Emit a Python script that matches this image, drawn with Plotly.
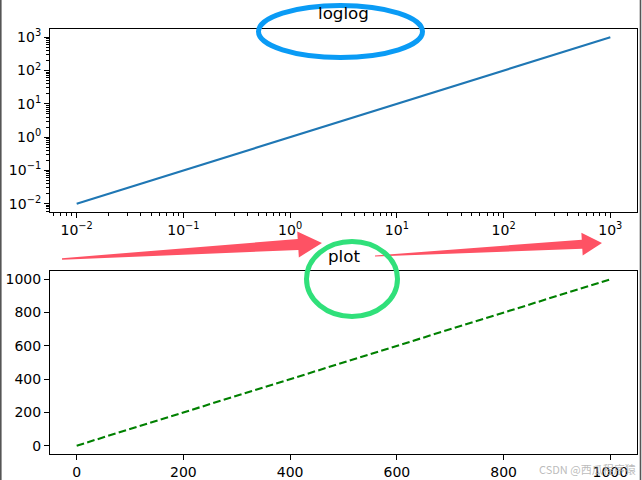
import math
import plotly.graph_objects as go
from plotly.subplots import make_subplots

# ---- data ----
loglog_x = [0.01, 0.1, 1, 10, 100, 1000]
loglog_y = [0.01, 0.1, 1, 10, 100, 1000]
plot_x = [0, 250, 500, 750, 1000]
plot_y = [0, 250, 500, 750, 1000]

log_tick_vals = [0.01, 0.1, 1, 10, 100, 1000]
log_tick_text = ["10<sup>\u22122</sup>", "10<sup>\u22121</sup>", "10<sup>0</sup>",
                 "10<sup>1</sup>", "10<sup>2</sup>", "10<sup>3</sup>"]
lin_tick_vals = [0, 200, 400, 600, 800, 1000]
lin_tick_text = ["0", "200", "400", "600", "800", "1000"]

title_top = "loglog"
title_bottom = "plot"
watermark = "CSDN @西瓜程序猿"

# ---- layout geometry (pixels) ----
W, H = 642, 480
L, R, T, B = 50, 5, 29, 26
PW, PH = W - L - R, H - T - B
top_ax = (29, 212)
bot_ax = (271, 454)


def px(x):
    return (x - L) / PW


def py(y):
    return (H - B - y) / PH


fig = make_subplots(rows=2, cols=1)

fig.add_trace(go.Scatter(x=loglog_x, y=loglog_y, mode="lines",
                         line=dict(color="#1f77b4", width=2.1),
                         showlegend=False), row=1, col=1)
fig.add_trace(go.Scatter(x=plot_x, y=plot_y, mode="lines",
                         line=dict(color="#008000", width=2.1, dash="7.7px,3.3px"),
                         showlegend=False), row=2, col=1)

minor_vals = [m * 10 ** e for e in range(-3, 4) for m in range(2, 10)]
minor_vals = [v for v in minor_vals if 10 ** -2.3 < v < 10 ** 3.3]

tickfont = dict(family="DejaVu Sans", size=14, color="black")
common = dict(showline=True, linecolor="black", linewidth=1.1, mirror=True,
              ticks="outside", ticklen=5, tickwidth=1.1, tickcolor="black",
              showgrid=False, zeroline=False, tickfont=tickfont,
              automargin=False)

fig.update_xaxes(type="log", range=[-2.25, 3.25], tickmode="array",
                 tickvals=log_tick_vals, ticktext=log_tick_text,
                 minor=dict(tickvals=minor_vals, ticks="outside", ticklen=3,
                            tickwidth=0.8, tickcolor="black"),
                 row=1, col=1, **common)
fig.update_yaxes(type="log", range=[-2.25, 3.25], tickmode="array",
                 tickvals=log_tick_vals, ticktext=log_tick_text,
                 minor=dict(tickvals=minor_vals, ticks="outside", ticklen=3,
                            tickwidth=0.8, tickcolor="black"),
                 domain=[py(top_ax[1]), py(top_ax[0])],
                 row=1, col=1, **common)
fig.update_xaxes(range=[-50, 1050], tickmode="array",
                 tickvals=lin_tick_vals, ticktext=lin_tick_text,
                 row=2, col=1, **common)
fig.update_yaxes(range=[-50, 1050], tickmode="array",
                 tickvals=lin_tick_vals, ticktext=lin_tick_text,
                 domain=[py(bot_ax[1]), py(bot_ax[0])],
                 row=2, col=1, **common)


def arrow_path(tail, tip, tail_hw, base_hw, head_hw, head_len):
    dx, dy = tip[0] - tail[0], tip[1] - tail[1]
    ln = math.hypot(dx, dy)
    ux, uy = dx / ln, dy / ln
    nx, ny = -uy, ux
    bx, by = tip[0] - ux * head_len, tip[1] - uy * head_len
    pts = [
        (tail[0] + nx * tail_hw, tail[1] + ny * tail_hw),
        (bx + nx * base_hw, by + ny * base_hw),
        (bx + nx * head_hw, by + ny * head_hw),
        tip,
        (bx - nx * head_hw, by - ny * head_hw),
        (bx - nx * base_hw, by - ny * base_hw),
        (tail[0] - nx * tail_hw, tail[1] - ny * tail_hw),
    ]
    return "M " + " L ".join(f"{px(x):.5f},{py(y):.5f}" for x, y in pts) + " Z"


red = "#fe5264"
shapes = [
    dict(type="path", xref="paper", yref="paper",
         path=arrow_path((62, 259), (322, 243), 0.8, 5.5, 13, 24),
         fillcolor=red, line=dict(width=0), layer="above"),
    dict(type="path", xref="paper", yref="paper",
         path=arrow_path((375, 256), (602, 243), 0.5, 4.5, 11.5, 20),
         fillcolor=red, line=dict(width=0), layer="above"),
    dict(type="circle", xref="paper", yref="paper",
         x0=px(258.5), x1=px(422.5), y0=py(57.5), y1=py(5.5),
         line=dict(color="#0a9bf5", width=5), layer="above"),
    dict(type="circle", xref="paper", yref="paper",
         x0=px(306.5), x1=px(397.5), y0=py(316.5), y1=py(241.5),
         line=dict(color="#30e07a", width=5), layer="above"),
    dict(type="line", xref="paper", yref="paper",
         x0=px(0.8), x1=px(0.8), y0=py(0), y1=py(480),
         line=dict(color="#555555", width=1.6), layer="above"),
    dict(type="line", xref="paper", yref="paper",
         x0=px(640.5), x1=px(640.5), y0=py(0), y1=py(480),
         line=dict(color="#555555", width=1.6), layer="above"),
]

annotations = [
    dict(text=title_top, xref="paper", yref="paper", x=px(343.5), y=py(13),
         showarrow=False, xanchor="center", yanchor="middle",
         font=dict(family="DejaVu Sans", size=16.7, color="black")),
    dict(text=title_bottom, xref="paper", yref="paper", x=px(343.5), y=py(256),
         showarrow=False, xanchor="center", yanchor="middle",
         font=dict(family="DejaVu Sans", size=16.7, color="black")),
    dict(text=watermark, xref="paper", yref="paper", x=px(638), y=py(469),
         showarrow=False, xanchor="right", yanchor="middle",
         font=dict(family="Noto Sans CJK SC", size=11, color="rgba(170,170,170,0.8)")),
]

fig.update_layout(
    width=W, height=H,
    margin=dict(l=L, r=R, t=T, b=B),
    paper_bgcolor="white", plot_bgcolor="white",
    shapes=shapes, annotations=annotations,
    showlegend=False,
)

fig.write_html("out.html", config={"displayModeBar": False},
               post_script="document.body.style.margin='0';document.body.style.overflow='hidden';")
